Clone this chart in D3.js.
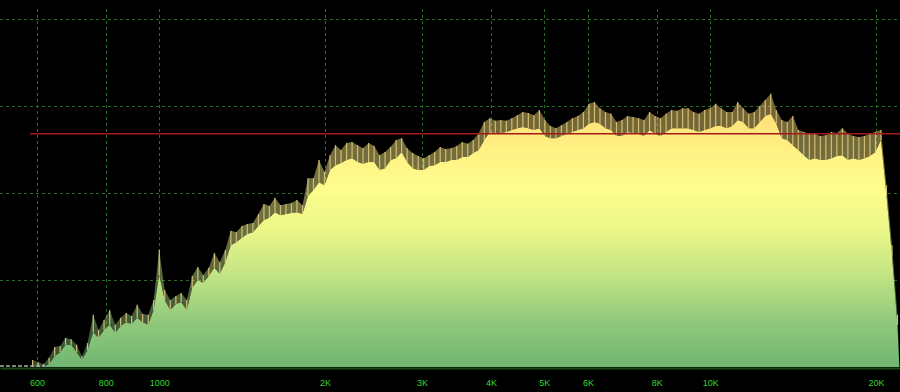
<!DOCTYPE html>
<html>
<head>
<meta charset="utf-8">
<script src="https://cdn.jsdelivr.net/npm/d3@7"></script>
<style>
  html, body { margin: 0; padding: 0; background: #000; }
  svg { display: block; }
</style>
</head>
<body>
<div id="chart"></div>
<script>
// spectrum bins (Hz), peak hold and body level (dB)
const freqs = [
  589, 603, 617, 631, 646, 661, 676, 692, 708, 724, 741, 759, 776, 794, 813, 832, 851, 871, 891, 912,
  933, 955, 977, 1000, 1023, 1047, 1072, 1096, 1122, 1148, 1175, 1202, 1230, 1259, 1288, 1318, 1349, 1380, 1413, 1445,
  1479, 1514, 1549, 1585, 1622, 1660, 1698, 1738, 1778, 1820, 1862, 1905, 1950, 1995, 2042, 2089, 2138, 2188, 2239, 2291,
  2344, 2399, 2455, 2512, 2570, 2630, 2692, 2754, 2818, 2884, 2951, 3020, 3090, 3162, 3236, 3311, 3388, 3467, 3548, 3631,
  3715, 3802, 3890, 3981, 4074, 4169, 4266, 4365, 4467, 4571, 4677, 4786, 4898, 5012, 5129, 5248, 5370, 5495, 5623, 5754,
  5888, 6026, 6166, 6310, 6457, 6607, 6761, 6918, 7079, 7244, 7413, 7586, 7762, 7943, 8128, 8318, 8511, 8710, 8913, 9120,
  9333, 9550, 9772, 10000, 10233, 10471, 10715, 10965, 11220, 11482, 11749, 12023, 12303, 12589, 12882, 13183, 13490, 13804, 14125, 14454,
  14791, 15136, 15488, 15849, 16218, 16596, 16982, 17378, 17783, 18197, 18621, 19055, 19498, 19953, 20417, 20893, 21380, 21878, 22050
];
const peakDb = [
  -78.4, -78.9, -79.3, -77.9, -75.4, -75.2, -73.3, -73.6, -74.9, -77.5, -74.5, -68.0, -71.5, -69.2, -66.9, -70.3, -68.7, -67.6, -68.3, -65.7,
  -67.8, -68.0, -64.6, -53.1, -62.3, -64.6, -63.7, -63.0, -64.6, -59.1, -57.0, -58.9, -57.2, -53.8, -55.9, -53.1, -48.7, -49.0, -47.6, -47.1,
  -46.9, -44.8, -42.5, -43.0, -41.1, -42.8, -42.5, -42.3, -41.6, -42.8, -36.6, -36.6, -32.4, -35.2, -31.3, -29.0, -30.1, -28.5, -28.3, -29.0,
  -29.7, -28.5, -29.2, -31.3, -30.6, -29.4, -27.8, -27.4, -29.7, -30.8, -31.5, -32.0, -31.3, -30.6, -29.4, -29.9, -29.7, -29.2, -28.3, -28.7,
  -27.8, -26.2, -23.7, -22.8, -23.4, -23.2, -23.4, -22.8, -22.1, -21.4, -21.6, -22.1, -20.9, -23.2, -24.6, -25.1, -24.4, -23.7, -22.8, -22.3,
  -21.4, -19.5, -19.1, -20.5, -21.4, -21.8, -23.7, -23.2, -22.3, -22.5, -22.8, -23.2, -21.4, -22.3, -22.8, -21.8, -20.9, -21.1, -20.5, -20.5,
  -21.4, -21.8, -20.9, -20.5, -19.5, -20.5, -21.4, -21.4, -19.1, -20.5, -21.8, -21.4, -20.0, -18.6, -17.2, -20.9, -23.2, -23.7, -22.3, -25.5,
  -26.0, -26.4, -26.4, -26.9, -26.7, -26.0, -26.2, -25.1, -26.4, -26.9, -27.1, -26.9, -26.4, -26.0, -25.5, -38.2, -52.0, -68.0, -80.0
];
const floorDb = [
  -80.0, -80.0, -80.0, -79.3, -77.5, -76.6, -74.9, -74.9, -76.6, -78.4, -76.1, -72.0, -73.3, -71.5, -70.3, -72.2, -70.6, -69.7, -70.1, -68.7,
  -69.7, -70.3, -66.9, -58.9, -64.6, -66.9, -65.5, -65.1, -66.9, -61.8, -60.0, -60.7, -59.1, -57.2, -58.6, -55.9, -52.0, -51.3, -50.3, -49.4,
  -49.0, -47.6, -46.2, -45.7, -44.4, -45.1, -44.8, -44.6, -44.4, -44.8, -40.7, -39.3, -37.5, -38.2, -34.7, -33.6, -33.1, -32.4, -32.0, -32.9,
  -33.3, -32.9, -32.9, -34.7, -34.3, -32.4, -32.0, -30.6, -32.9, -34.3, -34.7, -34.7, -33.8, -33.6, -32.9, -32.9, -32.4, -32.4, -31.7, -31.7,
  -30.8, -30.1, -27.8, -26.0, -26.2, -26.2, -26.0, -25.5, -25.1, -24.8, -25.1, -25.5, -25.1, -26.9, -27.4, -27.4, -26.9, -26.4, -26.0, -25.5,
  -25.1, -24.1, -23.7, -24.1, -25.1, -25.5, -26.9, -26.9, -26.0, -26.2, -26.4, -26.9, -25.5, -26.4, -26.9, -26.0, -25.1, -25.1, -25.1, -25.1,
  -25.5, -26.0, -25.5, -25.1, -24.6, -24.6, -25.1, -24.6, -23.2, -23.7, -25.1, -25.1, -23.7, -22.3, -21.8, -24.1, -27.4, -27.8, -29.0, -30.1,
  -31.3, -32.4, -32.0, -32.4, -32.4, -32.0, -31.5, -31.3, -32.4, -32.0, -32.4, -32.0, -31.5, -30.6, -27.8, -40.5, -54.3, -70.3, -80.0
];

const tickFreqs = [600, 800, 1000, 2000, 3000, 4000, 5000, 6000, 8000, 10000, 20000];
const tickLabels = ["600", "800", "1000", "2K", "3K", "4K", "5K", "6K", "8K", "10K", "20K"];
const gridDb = [0, -20, -40, -60];
const refLevelDb = -26.4;
const refStartFreq = 583;
const noiseEndFreq = 620;

const width = 900;
const height = 392;

const x = d3.scaleLog().domain([514, 22110]).range([0, width]);
const y = d3.scaleLinear().domain([-80, 0]).range([367, 19]);

const svg = d3
  .select("#chart")
  .append("svg")
  .attr("width", width)
  .attr("height", height)
  .style("background", "#000");

const rows = freqs.map((f, i) => ({ f: f, peak: peakDb[i], floor: floorDb[i] }));

function drawGrid(g) {
  g.selectAll("line.vgrid")
    .data(tickFreqs)
    .enter()
    .append("line")
    .attr("class", "vgrid")
    .attr("x1", (d) => Math.round(x(d)) + 0.5)
    .attr("x2", (d) => Math.round(x(d)) + 0.5)
    .attr("y1", y(0) - 10)
    .attr("y2", y(-80))
    .style("stroke", "#2c6a2c")
    .style("stroke-width", 1)
    .style("stroke-dasharray", "3, 3");

  g.selectAll("line.hgrid")
    .data(gridDb)
    .enter()
    .append("line")
    .attr("class", "hgrid")
    .attr("x1", 0)
    .attr("x2", width)
    .attr("y1", (d) => Math.round(y(d)) + 0.5)
    .attr("y2", (d) => Math.round(y(d)) + 0.5)
    .style("stroke", "#2c6a2c")
    .style("stroke-width", 1)
    .style("stroke-dasharray", "3, 3");
}

function drawSpectrum(g) {
  const grad = svg
    .append("defs")
    .append("linearGradient")
    .attr("id", "spec")
    .attr("gradientUnits", "userSpaceOnUse")
    .attr("x1", 0)
    .attr("x2", 0)
    .attr("y1", y(-80))
    .attr("y2", y(0));

  [
    [-80, "#70b672"],
    [-69, "#92ca7c"],
    [-58, "#c6e684"],
    [-48, "#ecf788"],
    [-39, "#fdfd8c"],
    [-30, "#fff184"],
    [-20, "#ffdc74"],
    [0, "#ffc860"],
  ].forEach((s) => {
    grad
      .append("stop")
      .attr("offset", (s[0] + 80) / 80)
      .attr("stop-color", s[1]);
  });

  const peakArea = d3
    .area()
    .x((d) => x(d.f))
    .y0((d) => y(d.floor))
    .y1((d) => y(d.peak));

  const bodyArea = d3
    .area()
    .x((d) => x(d.f))
    .y0(y(-80))
    .y1((d) => y(d.floor));

  g.append("path")
    .datum(rows)
    .attr("fill", "url(#spec)")
    .attr("opacity", 0.45)
    .attr("d", peakArea);

  g.selectAll("line.spike")
    .data(rows)
    .enter()
    .append("line")
    .attr("class", "spike")
    .attr("x1", (d) => x(d.f))
    .attr("x2", (d) => x(d.f))
    .attr("y1", (d) => y(d.floor))
    .attr("y2", (d) => y(d.peak))
    .style("stroke", "#d4bc72")
    .style("stroke-width", 1.2);

  g.append("path")
    .datum(rows)
    .attr("fill", "url(#spec)")
    .attr("d", bodyArea);

  g.append("line")
    .attr("x1", x.range()[0])
    .attr("x2", x(noiseEndFreq))
    .attr("y1", y(-80) - 1)
    .attr("y2", y(-80) - 1)
    .style("stroke", "#a8a8a8")
    .style("stroke-width", 1.5)
    .style("stroke-dasharray", "4, 2");
}

function drawRefLine(g) {
  g.append("line")
    .attr("x1", x(refStartFreq))
    .attr("x2", x.range()[1])
    .attr("y1", y(refLevelDb))
    .attr("y2", y(refLevelDb))
    .style("stroke", "#a81a1a")
    .style("stroke-width", 1.5);
}

function drawAxis(g) {
  const axis = g
    .append("g")
    .attr("transform", "translate(0," + (y(-80) + 1) + ")")
    .call(
      d3
        .axisBottom(x)
        .tickValues(tickFreqs)
        .tickFormat((d, i) => tickLabels[i])
        .tickSize(0)
        .tickSizeOuter(0)
        .tickPadding(12)
    );

  axis.select(".domain").style("stroke", "#174a17").style("stroke-width", 2);

  axis
    .selectAll("text")
    .style("fill", "#2fd82f")
    .style("font-size", "9px")
    .style("font-family", "'Liberation Sans', Arial, sans-serif");
}

const g = svg.append("g");
drawGrid(g);
drawSpectrum(g);
drawRefLine(g);
drawAxis(g);
</script>
</body>
</html>
